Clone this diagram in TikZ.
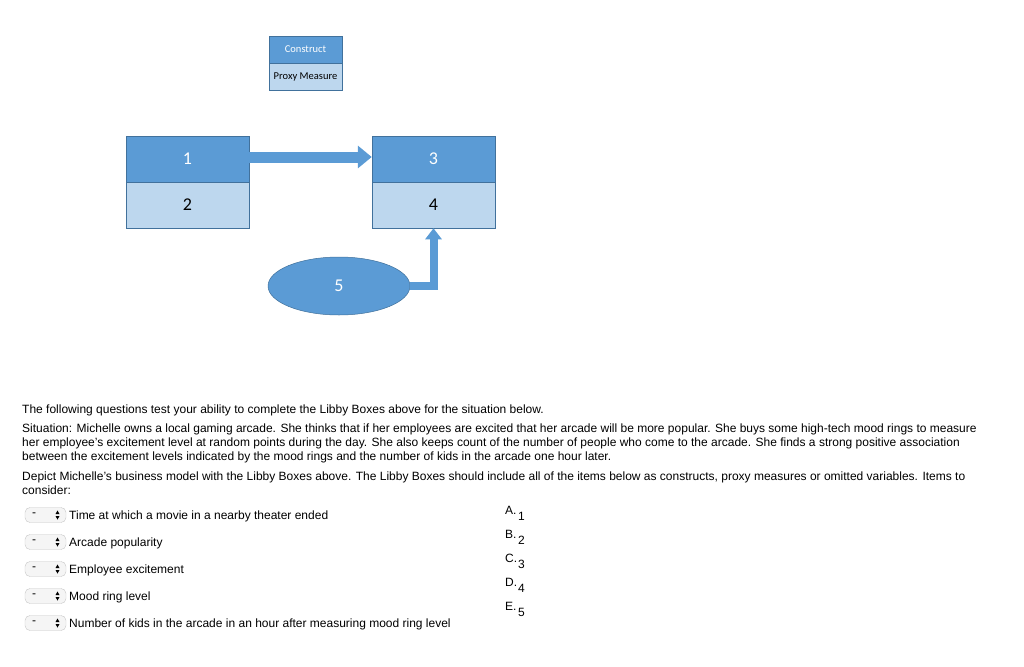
\documentclass[tikz,border=0pt]{standalone}
\usepackage{fontspec}
\setmainfont{Liberation Sans}
\newfontfamily\carlitofont{Carlito}
\usetikzlibrary{arrows.meta,shapes.geometric,calc}
\definecolor{dk}{HTML}{5B9BD5}
\definecolor{lt}{HTML}{BDD7EE}
\definecolor{bd}{HTML}{41719C}
\tikzset{
  topbox/.style={draw=bd,line width=0.5pt,fill=dk,minimum width=123pt,minimum height=46pt,inner sep=0pt,text=white,font=\carlitofont\fontsize{18}{18}\selectfont},
  botbox/.style={draw=bd,line width=0.5pt,fill=lt,minimum width=123pt,minimum height=46pt,inner sep=0pt,text=black,font=\carlitofont\fontsize{18}{18}\selectfont},
  keytop/.style={draw=bd,line width=0.5pt,fill=dk,minimum width=73pt,minimum height=27pt,inner sep=0pt,text=white,font=\carlitofont\fontsize{10.5}{10.5}\selectfont},
  keybot/.style={draw=bd,line width=0.5pt,fill=lt,minimum width=73pt,minimum height=27pt,inner sep=0pt,text=black,font=\carlitofont\fontsize{10.5}{10.5}\selectfont},
  blockarrow/.style={draw=dk,line width=11pt,-{Triangle[width=22pt,length=14pt]}},
  elbowarrow/.style={draw=dk,line width=8pt,miter limit=10,line join=miter,-{Triangle[width=16pt,length=11pt]}},
  body/.style={anchor=base west,inner sep=0pt,font=\fontsize{12}{14}\selectfont,text=black},
  sel/.style={draw=gray!45,fill=gray!8,rounded corners=5pt,minimum width=41pt,minimum height=15pt,inner sep=0pt},
  lett/.style={anchor=base west,inner sep=0pt,font=\fontsize{12}{14}\selectfont}
}
\begin{document}
\begin{tikzpicture}[x=1pt,y=-1pt]
\useasboundingbox (0,0) rectangle (1024,666);
% key
\node[keytop] (kc) at (305.5,49.5) {Construct};
\node[keybot] (kp) at (305.5,76.5) {Proxy Measure};
% boxes
\node[topbox] (b1) at (187.5,159) {1};
\node[botbox] (b2) at (187.5,205) {2};
\node[topbox] (b3) at (433.5,159) {3};
\node[botbox] (b4) at (433.5,205) {4};
\node[ellipse,draw=bd,line width=0.5pt,fill=dk,minimum width=142pt,minimum height=58pt,inner sep=0pt,text=white,font=\carlitofont\fontsize{18}{18}\selectfont] (e5) at (339,286) {5};
\draw[blockarrow] ([yshift=2pt]b1.east) -- ([yshift=2pt]b3.west);
\draw[elbowarrow] (e5.east) -| (b4.south);
% text
\node[body] (t1) at (22,413) {The following questions test your ability to complete the Libby Boxes above for the situation below.};
\node[body] (t2) at (22,432) {Situation: Michelle owns a local gaming arcade. She thinks that if her employees are excited that her arcade will be more popular. She buys some high-tech mood rings to measure};
\node[body] (t3) at (22,446) {her employee's excitement level at random points during the day. She also keeps count of the number of people who come to the arcade. She finds a strong positive association};
\node[body] (t4) at (22,460) {between the excitement levels indicated by the mood rings and the number of kids in the arcade one hour later.};
\node[body] (t5) at (22,480) {Depict Michelle's business model with the Libby Boxes above. The Libby Boxes should include all of the items below as constructs, proxy measures or omitted variables. Items to};
\node[body] (t6) at (22,494) {consider:};
% items
\foreach \y/\txt [count=\i] in {515/Time at which a movie in a nearby theater ended,542/Arcade popularity,569/Employee excitement,596/Mood ring level,623/Number of kids in the arcade in an hour after measuring mood ring level}{
  \node[sel] (s\i) at (45.5,\y) {};
  \node[font=\fontsize{12}{12}\selectfont,inner sep=0pt] (m\i) at (34,\y) {-};
  \fill[black] (55.5,\y-1) -- (59.5,\y-1) -- (57.5,\y-4.5) -- cycle;
  \fill[black] (55.5,\y+1) -- (59.5,\y+1) -- (57.5,\y+4.5) -- cycle;
  \node[body] (it\i) at (69,\y+4) {\txt};
}
% answers
\foreach \y/\l/\n [count=\i] in {514/A/1,538/B/2,562/C/3,586/D/4,610/E/5}{
  \node[lett] (l\i) at (505,\y) {\l.};
  \node[lett] (n\i) at (518,\y+6) {\n};
}
\end{tikzpicture}
\end{document}
